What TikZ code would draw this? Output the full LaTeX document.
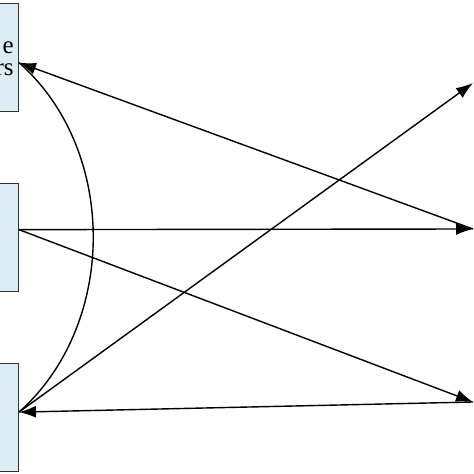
\documentclass[tikz,border=0pt]{standalone}
\usepackage{fontspec}
\setmainfont{Liberation Serif}
\usetikzlibrary{arrows.meta, positioning}
\definecolor{boxblue}{RGB}{220,236,245}

\begin{document}
\begin{tikzpicture}[x=1pt, y=1pt,
  box/.style={rectangle, draw=black!80, fill=boxblue, line width=1.3pt, minimum width=60pt, minimum height=108pt, inner sep=0pt},
  lbl/.style={anchor=base east, inner sep=0pt, text depth=0pt, font=\fontsize{25}{23}\selectfont},
  link/.style={line width=1.4pt, -{Latex[length=17pt,width=12pt]}},
  thick]

  \useasboundingbox (0,0) rectangle (474,474);
  \clip (0,0) rectangle (474,474);

  % boxes on the left, cut off by the border
  \node[box, anchor=north east] (top) at (19,471) {};
  \node[box, anchor=north east] (mid) at (19,291) {};
  \node[box, anchor=north east] (bot) at (19,111) {};
  \node[lbl] (toplbl1) at (14,420) {e};
  \node[lbl] (toplbl2) at (14,398) {rs};

  \coordinate (ta) at ([yshift=-5pt]top.east);
  \coordinate (ma) at ([yshift=8pt]mid.east);
  \coordinate (ba) at ([yshift=5.5pt]bot.east);

  % ends on the right border
  \coordinate (r1) at (473,391);
  \coordinate (r2) at (473,245);
  \coordinate (r3) at (473,72);

  \draw[link] (r2) -- (ta);
  \draw[link] (ma) -- (r2);
  \draw[link] (ma) -- (r3);
  \draw[link] (ba) -- (r1);
  \draw[link] (r3) -- (ba);
  \draw[line width=1.4pt] (ta) .. controls (118,324) and (118,150) .. (ba);
\end{tikzpicture}
\end{document}
